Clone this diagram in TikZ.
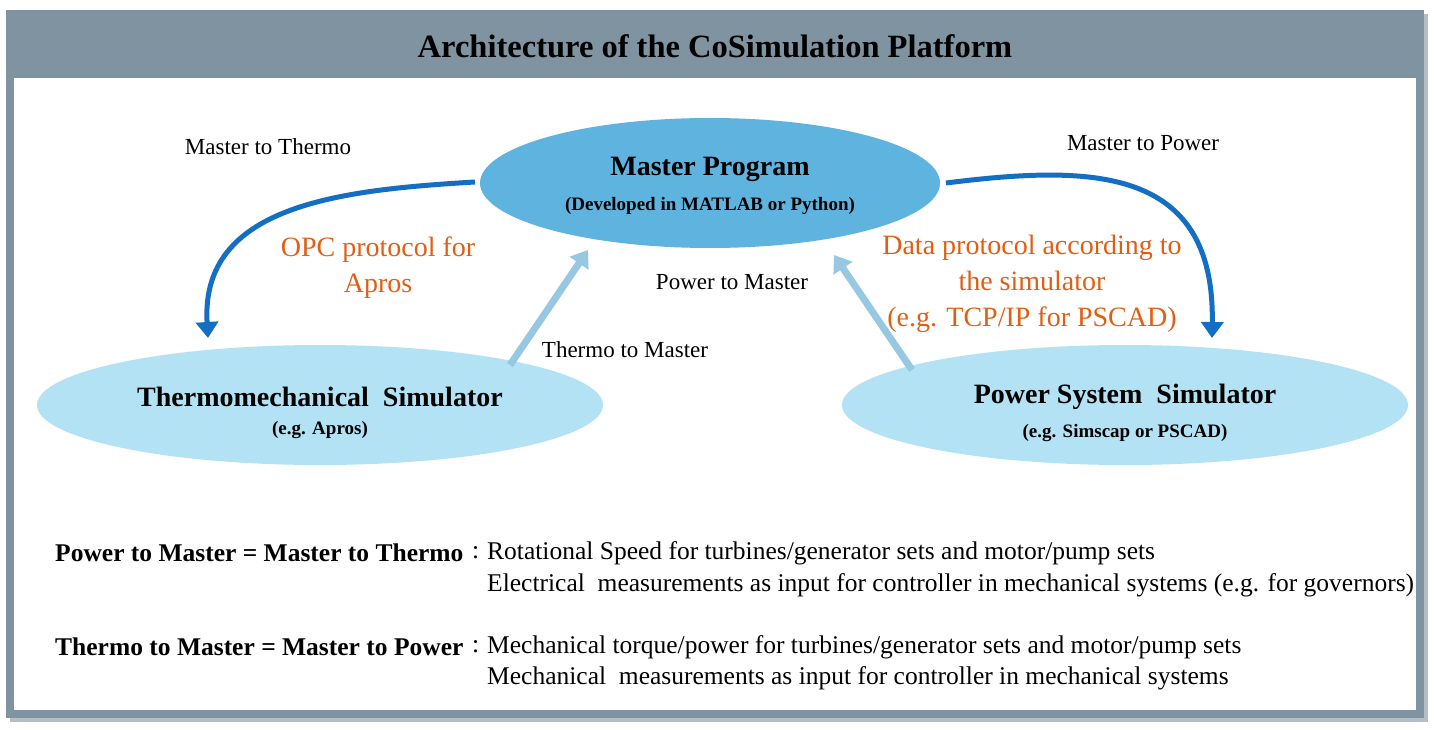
\documentclass[tikz,border=0pt]{standalone}
\usepackage{fontspec}
\setmainfont{Liberation Serif}
\usetikzlibrary{arrows.meta}
\definecolor{frameg}{RGB}{128,147,160}
\definecolor{mastc}{RGB}{95,180,223}
\definecolor{simc}{RGB}{178,226,244}
\definecolor{darkb}{RGB}{20,110,195}
\definecolor{lightb}{RGB}{150,200,225}
\definecolor{orng}{RGB}{225,95,20}
\tikzset{
  thick arrow/.style={line width=5pt, draw=darkb, -{Triangle[length=16pt,width=22pt]}},
  thin arrow/.style={line width=7pt, draw=lightb, -{Triangle[length=16pt,width=22pt]}},
  lbl/.style={font=\fontsize{23}{27}\selectfont, align=center},
  olbl/.style={font=\fontsize{28}{36}\selectfont, text=orng, align=center},
  btxt/.style={font=\fontsize{25.5}{30}\selectfont, anchor=west, inner sep=0pt},
  bbtxt/.style={font=\bfseries\fontsize{25.5}{30}\selectfont, anchor=west, inner sep=0pt}
}
\begin{document}
\begin{tikzpicture}[x=1pt,y=-1pt]
\useasboundingbox (0,0) rectangle (1434,730);
\fill[frameg!60] (10,14) rectangle (1428,722);
\fill[frameg] (6,10) rectangle (1424,718);
\fill[white] (14,78) rectangle (1416,710);
\node[font=\bfseries\fontsize{32.5}{38}\selectfont] (title) at (715,46) {Architecture\ of\ the CoSimulation Platform};
% ellipses
\fill[mastc] (710,183) ellipse [x radius=230, y radius=65];
\fill[simc] (320,405) ellipse [x radius=283, y radius=60];
\fill[simc] (1125,405) ellipse [x radius=283, y radius=60];
\node[align=center] (master) at (710,186) {{\bfseries\fontsize{28}{32}\selectfont Master Program}\\[14pt]{\bfseries\fontsize{19}{22}\selectfont (Developed in MATLAB or Python)}};
\node[align=center] (thermo) at (320,413) {{\bfseries\fontsize{28}{32}\selectfont Thermomechanical\ \ Simulator}\\[14pt]{\bfseries\fontsize{19}{22}\selectfont (e.g. Apros)}};
\node[align=center] (power) at (1125,413) {{\bfseries\fontsize{28}{32}\selectfont Power System\ \ Simulator}\\[14pt]{\bfseries\fontsize{19}{22}\selectfont (e.g. Simscap or PSCAD)}};
\coordinate (a1s) at (475,182); \coordinate (a1e) at (208,338);
\coordinate (a2s) at (946,183); \coordinate (a2e) at (1212,338);
\coordinate (b1s) at (510,365); \coordinate (b1e) at (588,250);
\coordinate (b2s) at (912,370); \coordinate (b2e) at (834,255);
\draw[thick arrow] (a1s) .. controls (340,190) and (200,205) .. (a1e);
\draw[thick arrow] (a2s) .. controls (1090,165) and (1215,165) .. (a2e);
\draw[thin arrow] (b1s) -- (b1e);
\draw[thin arrow] (b2s) -- (b2e);
\node[lbl] (l1) at (268,147) {Master to Thermo};
\node[lbl] (l2) at (1143,143) {Master to Power};
\node[lbl] (l3) at (732,282) {Power to Master};
\node[lbl] (l4) at (625,350) {Thermo to Master};
\node[olbl] (o1) at (378,268) {OPC protocol for\\Apros};
\node[olbl] (o2) at (1032,284) {Data protocol according to\\the simulator\\(e.g. TCP/IP for PSCAD)};
% bottom text
\node[bbtxt] (k1) at (55,553) {Power to Master = Master to Thermo};
\node[btxt] (c1) at (472,553) {:};
\node[btxt] (t1) at (487,553) {Rotational Speed for turbines/generator sets and motor/pump sets};
\node[btxt] (t2) at (487,585) {Electrical\ \ measurements as input for controller in mechanical systems (e.g. for governors)};
\node[bbtxt] (k2) at (55,647) {Thermo to Master = Master to Power};
\node[btxt] (c2) at (472,647) {:};
\node[btxt] (t3) at (487,647) {Mechanical torque/power for turbines/generator sets and motor/pump sets};
\node[btxt] (t4) at (487,678) {Mechanical\ \ measurements as input for controller in mechanical systems};
\end{tikzpicture}
\end{document}
